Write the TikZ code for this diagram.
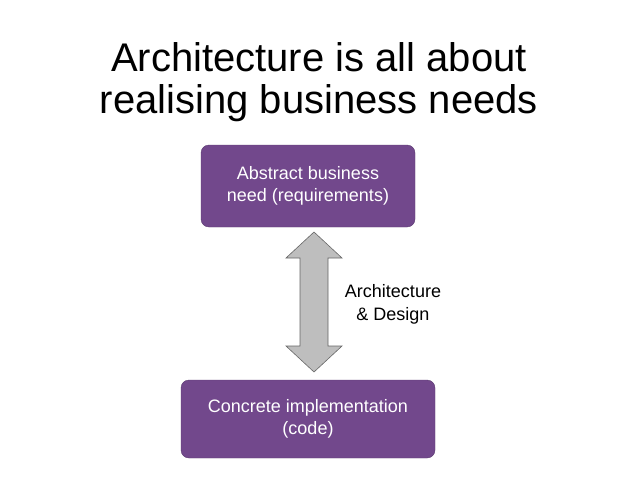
\documentclass[tikz,border=0pt]{standalone}
\usepackage{fontspec}
\setmainfont{Liberation Sans}
\definecolor{boxpurple}{RGB}{114,72,140}
\definecolor{arrgray}{RGB}{190,190,190}
\begin{document}
\begin{tikzpicture}[x=1pt,y=-1pt,
  box/.style={fill=boxpurple,draw=boxpurple!80!black,rounded corners=8pt,text=white,font=\fontsize{18}{22}\selectfont,align=center,inner sep=0pt},
  lbl/.style={font=\fontsize{18}{23}\selectfont,align=center}]
\useasboundingbox (0,0) rectangle (638,479);
\node[font=\fontsize{40}{42}\selectfont,align=center] (title) at (319,82) {Architecture is all about\\realising business needs};
\node[box,minimum width=214pt,minimum height=82pt] (top) at (308,186) {Abstract business\\need (requirements)};
\node[box,minimum width=254pt,minimum height=78pt] (bot) at (308,419) {Concrete implementation\\(code)};
\draw[fill=arrgray,draw=gray!80!black,line width=0.6pt]
  (314,232) -- (342,258) -- (328,258) -- (328,346) -- (342,346) -- (314,372)
  -- (286,346) -- (300,346) -- (300,258) -- (286,258) -- cycle;
\node[lbl] (ad) at (393,304) {Architecture\\\& Design};
\end{tikzpicture}
\end{document}
